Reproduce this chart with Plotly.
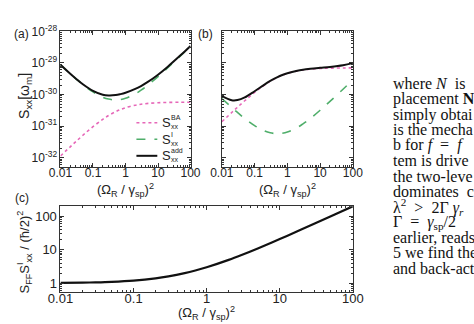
import plotly.graph_objects as go

W, H = 474, 324

# ---------------- data ----------------
x_vals = [0.01, 0.02, 0.03, 0.05, 0.1, 0.2, 0.3, 0.5, 0.7, 1, 2, 3, 5, 10, 20, 50, 100]

# panel (a)
a_ba = [1.13e-32, 2.21e-32, 3.25e-32, 5.23e-32, 9.58e-32, 1.64e-31, 2.16e-31, 2.88e-31, 3.35e-31,
        3.83e-31, 4.6e-31, 4.93e-31, 5.23e-31, 5.48e-31, 5.61e-31, 5.69e-31, 5.72e-31]
a_i = [8.74e-30, 4.54e-30, 3.15e-30, 2.03e-30, 1.21e-30, 8.23e-31, 7.17e-31, 6.72e-31, 6.91e-31,
       7.56e-31, 1.05e-30, 1.37e-30, 2.03e-30, 3.70e-30, 7.06e-30, 1.71e-29, 3.39e-29]
a_add = [8.75e-30, 4.56e-30, 3.18e-30, 2.08e-30, 1.31e-30, 9.87e-31, 9.33e-31, 9.60e-31, 1.03e-30,
         1.14e-30, 1.51e-30, 1.86e-30, 2.55e-30, 4.25e-30, 7.62e-30, 1.77e-29, 3.45e-29]

# panel (b)
b_ba = [1.37e-31, 2.69e-31, 3.96e-31, 6.36e-31, 1.17e-30, 2.0e-30, 2.63e-30, 3.5e-30, 4.08e-30,
        4.67e-30, 5.6e-30, 6.0e-30, 6.36e-30, 6.67e-30, 6.83e-30, 6.93e-30, 6.97e-30]
b_i = [7.49e-31, 3.89e-31, 2.70e-31, 1.74e-31, 1.04e-31, 7.06e-32, 6.14e-32, 5.76e-32, 5.93e-32,
       6.48e-32, 9.0e-32, 1.18e-31, 1.74e-31, 3.18e-31, 6.05e-31, 1.47e-30, 2.91e-30]
b_add = [8.86e-31, 6.58e-31, 6.66e-31, 8.10e-31, 1.27e-30, 2.07e-30, 2.69e-30, 3.56e-30, 4.14e-30,
         4.73e-30, 5.69e-30, 6.12e-30, 6.53e-30, 6.99e-30, 7.44e-30, 8.40e-30, 9.88e-30]

# panel (c)
c_prod = [1.02, 1.04, 1.06, 1.1, 1.2, 1.4, 1.6, 2.0, 2.4, 3.0, 5.0, 7.0, 11.0, 21.0, 41.0, 101.0, 201.0]

x_ticks = [0.01, 0.1, 1, 10, 100]
x_tick_text = ["0.01", "0.1", "1", "10", "100"]
ya_ticks = [1e-32, 1e-31, 1e-30, 1e-29, 1e-28]
ya_tick_text = ["10<sup>-32</sup>", "10<sup>-31</sup>", "10<sup>-30</sup>", "10<sup>-29</sup>", "10<sup>-28</sup>"]
yc_ticks = [1, 10, 100]
yc_tick_text = ["1", "10", "100"]

legend_sup = ["BA", "I", "add"]

body_lines = [
    "where <i>N</i>  is",
    "placement <b>N</b>",
    "simply obtai",
    "is the mecha",
    "b for <i>f</i>  =  <i>f</i>",
    "tem is drive",
    "the two-leve",
    "dominates  c",
    "λ<sup>2</sup>  >  2Γ <i>γ<sub>r</sub></i>",
    "Γ  =  <i>γ</i><sub>sp</sub>/2",
    "earlier, reads",
    "5 we find the",
    "and back-act",
]

# ---------------- styling ----------------
PINK = "#e667b8"
GREEN = "#4fae6a"
BLACK = "#111111"
AX = "#333333"
TXT = "#222222"
SANS = "Liberation Sans, Arial, sans-serif"
SERIF = "Liberation Serif, Times New Roman, serif"


def px(x):
    return x / W


def py(y):
    return 1 - y / H


minor_vals = [m * 10 ** k for k in range(-33, 3) for m in range(2, 10)]

fig = go.Figure()

styles = [dict(color=PINK, width=1.6, dash="dot"), dict(color=GREEN, width=1.6, dash="dash"),
          dict(color=BLACK, width=2)]

# panel (a)
for ys, st in zip([a_ba, a_i, a_add], styles):
    fig.add_trace(go.Scatter(x=x_vals, y=ys, mode="lines", line=dict(shape="spline", **st),
                             showlegend=False, xaxis="x", yaxis="y"))
# panel (b)
for ys, st in zip([b_ba, b_i, b_add], styles):
    fig.add_trace(go.Scatter(x=x_vals, y=ys, mode="lines", line=dict(shape="spline", **st),
                             showlegend=False, xaxis="x2", yaxis="y2"))
# panel (c)
fig.add_trace(go.Scatter(x=x_vals, y=c_prod, mode="lines", line=dict(color=BLACK, width=2.2, shape="spline"),
                         showlegend=False, xaxis="x3", yaxis="y3"))


def axis_common(**kw):
    d = dict(type="log", showline=True, linecolor=AX, linewidth=1, mirror="allticks",
             ticks="inside", ticklen=4, tickcolor=AX, showgrid=False, zeroline=False,
             tickfont=dict(family=SANS, size=12, color=TXT),
             minor=dict(ticks="inside", ticklen=2, tickcolor=AX, tickmode="array", tickvals=minor_vals))
    d.update(kw)
    return d


xa_dom = [px(50), px(187)]
xb_dom = [px(220), px(358)]
xc_dom = [px(50), px(358)]
yab_dom = [py(163), py(23)]
yc_dom = [py(291), py(203)]

fig.update_layout(
    width=W, height=H, margin=dict(l=0, r=0, t=0, b=0),
    paper_bgcolor="white", plot_bgcolor="white", showlegend=False,
    xaxis=axis_common(domain=xa_dom, range=[-2, 2], tickmode="array", tickvals=x_ticks, ticktext=x_tick_text,
                      anchor="y", ticklabelstandoff=-6),
    yaxis=axis_common(domain=yab_dom, range=[-32.31, -28.0], tickmode="array", tickvals=ya_ticks,
                      ticktext=ya_tick_text, anchor="x"),
    xaxis2=axis_common(domain=xb_dom, range=[-2, 2], tickmode="array", tickvals=x_ticks, ticktext=x_tick_text,
                       anchor="y2", ticklabelstandoff=-6),
    yaxis2=axis_common(domain=yab_dom, range=[-32.31, -28.0], tickmode="array", tickvals=ya_ticks,
                       showticklabels=False, anchor="x2"),
    xaxis3=axis_common(domain=xc_dom, range=[-2, 2], tickmode="array", tickvals=x_ticks, ticktext=x_tick_text,
                       anchor="y3", ticklabelstandoff=-6, tickfont=dict(family=SANS, size=13, color=TXT)),
    yaxis3=axis_common(domain=yc_dom, range=[-0.26, 2.3], tickmode="array", tickvals=yc_ticks,
                       ticktext=yc_tick_text, anchor="x3", tickfont=dict(family=SANS, size=13, color=TXT)),
)

shapes = []
annos = []
# legend for panel (a), drawn as samples + text
for i, (st, sup) in enumerate(zip(styles, legend_sup)):
    yy = 117 + 17 * i
    shapes.append(dict(type="line", xref="paper", yref="paper", x0=px(130), x1=px(152), y0=py(yy), y1=py(yy),
                       line=st))
    annos.append(dict(x=px(155), y=py(yy), xref="paper", yref="paper", text="S", showarrow=False,
                      xanchor="left", yanchor="middle", font=dict(family=SANS, size=13, color=TXT)))
    annos.append(dict(x=px(164), y=py(yy - 5), xref="paper", yref="paper", text=sup, showarrow=False,
                      xanchor="left", yanchor="middle", font=dict(family=SANS, size=7, color=TXT)))
    annos.append(dict(x=px(164), y=py(yy + 4), xref="paper", yref="paper", text="xx", showarrow=False,
                      xanchor="left", yanchor="middle", font=dict(family=SANS, size=7, color=TXT)))

xlab = "(Ω<sub>R</sub> / γ<sub>sp</sub>)<sup>2</sup>"
for cx, cy in [(118, 186), (289, 186), (204, 313)]:
    annos.append(dict(x=px(cx), y=py(cy), xref="paper", yref="paper", text=xlab, showarrow=False,
                      xanchor="center", yanchor="middle", font=dict(family=SANS, size=13, color=TXT)))
annos.append(dict(x=px(12), y=py(89), xref="paper", yref="paper", text="S<sub>xx</sub>[ω<sub>m</sub>]",
                  showarrow=False, textangle=-90, xanchor="center", yanchor="middle",
                  font=dict(family=SANS, size=14, color=TXT)))
annos.append(dict(x=px(12), y=py(250), xref="paper", yref="paper",
                  text="S<sub>FF</sub>S<sup>I</sup><sub>xx</sub> / (ħ/2)<sup>2</sup>",
                  showarrow=False, textangle=-90, xanchor="center", yanchor="middle",
                  font=dict(family=SANS, size=13, color=TXT)))
for t, cx, cy in [("(a)", 9, 26), ("(b)", 203, 26), ("(c)", 9, 194)]:
    annos.append(dict(x=px(cx), y=py(cy), xref="paper", yref="paper", text=t, showarrow=False,
                      xanchor="center", yanchor="middle", font=dict(family=SANS, size=12, color=TXT)))
for i, line in enumerate(body_lines):
    annos.append(dict(x=px(398), y=py(77 + 15.8 * i), xref="paper", yref="paper", text=line, showarrow=False,
                      xanchor="left", yanchor="middle", align="left",
                      font=dict(family=SERIF, size=16, color="#111")))
fig.update_layout(annotations=annos, shapes=shapes)

fig.write_html("out.html")
